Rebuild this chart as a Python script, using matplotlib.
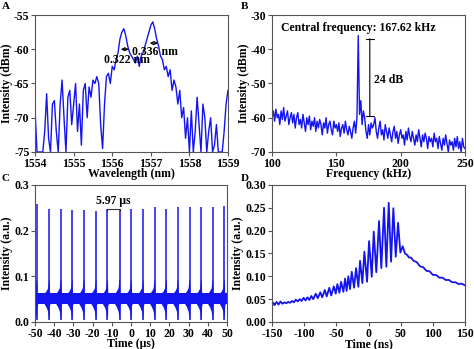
import numpy as np
import matplotlib
matplotlib.use('Agg')
import matplotlib.pyplot as plt

plt.rcParams['font.family'] = 'Liberation Serif'
plt.rcParams['font.weight'] = 'bold'
plt.rcParams['font.size'] = 8.5
plt.rcParams['axes.labelweight'] = 'bold'
plt.rcParams['axes.unicode_minus'] = False
plt.rcParams['axes.edgecolor'] = '#555555'
plt.rcParams['xtick.major.size'] = 3
plt.rcParams['ytick.major.size'] = 3

LINE = '#1414f0'

# A: optical spectrum, 0.05 nm grid from 1554 to 1559 nm
spec_a = [-69, -75, -75, -75, -75, -72, -66.5, -73, -75, -68,
          -67.5, -72, -75, -68, -64.5, -70, -75, -67, -66, -71,
          -68, -65, -72, -68, -74, -66, -65, -70, -65.5, -67,
          -64.5, -65, -64, -65, -71, -74.5, -68, -64, -63.5, -65,
          -62.5, -63, -61.5, -60.5, -58.5, -57.5, -57, -58, -59.5, -60.5,
          -61, -61.5, -62, -61, -62.5, -61, -60.5, -59.5, -58.5, -57.5,
          -56.5, -56, -57, -58.5, -59.5, -61, -61.5, -63, -62.5, -64,
          -63, -66, -64.5, -65.5, -68, -66, -70, -68.5, -73, -70,
          -75, -69, -75, -72, -67, -71, -75, -68, -70, -75,
          -72, -70, -75, -74, -71, -75, -75, -75, -72, -68, -66]
wl = np.arange(len(spec_a)) * 0.05 + 1554

# B: RF spectrum, 1 kHz grid from 100 to 250 kHz
rf_b = [-60, -58, -61, -57.5, -60, -59, -62, -58, -60.5, -57,
        -61, -59.5, -58, -62, -60, -58.5, -61.5, -59, -63, -60,
        -58.5, -62, -60.5, -63, -59, -61.5, -64, -60, -62, -59.5,
        -63.5, -61, -62.5, -60, -64, -61, -63, -60.5, -62, -65,
        -61.5, -63, -60, -64.5, -62, -61, -63.5, -65, -61, -63,
        -62, -64, -61.5, -65.5, -63, -62, -64.5, -61, -63.5, -65,
        -62.5, -64, -66, -63, -61, -64.5, -60, -36, -59, -55,
        -62, -58, -60, -64, -66, -62, -65, -61.5, -63, -62,
        -60, -64, -66, -63, -61, -65, -63.5, -66.5, -62, -64,
        -66, -63, -65, -67, -64, -62.5, -66, -64, -67.5, -65,
        -63.5, -66, -65, -68, -64, -66.5, -63, -65.5, -67, -64,
        -66, -68, -65, -67, -63.5, -66, -68.5, -65, -67, -64.5,
        -66, -69, -65.5, -67, -66, -68.5, -64.5, -67, -66, -69,
        -65.5, -67.5, -69.5, -66, -68, -65, -67.5, -70, -66.5, -68,
        -67, -69.5, -66, -68.5, -65.5, -69, -67, -70, -66, -68.5, -69]
freq = np.arange(len(rf_b)) + 100

# C: pulse train, peak times (us) and heights (a.u.)
pulse_t = [-49.1, -42.7, -36.6, -30.7, -24.6, -18.3, -12.3, -6.0, 0.1,
           6.2, 12.3, 18.3, 24.4, 30.5, 36.6, 42.5, 48.6]
pulse_h = [0.258, 0.248, 0.248, 0.245, 0.245, 0.242, 0.248, 0.248, 0.248,
           0.248, 0.251, 0.248, 0.251, 0.251, 0.251, 0.251, 0.254]
band_lo, band_hi = 0.040, 0.063
env_dt = [-2.6, -1.6, -0.8, -0.3, 0.0, 0.15, 0.5]
env_hi = [0.063, 0.068, 0.075, 0.093, 0.093, 0.066, 0.063]
env_lo = [0.040, 0.033, 0.024, 0.012, 0.004, 0.036, 0.040]

# D: single pulse, alternating peaks / troughs (ns, a.u.)
t_d = [-150, -148, -146, -143, -140, -137, -134, -131, -128, -125,
       -122, -119, -116, -113, -110, -107, -104, -101, -98, -95,
       -92, -89, -86, -82, -79, -75, -72, -68, -65, -61,
       -58, -54, -51, -48.5, -45.3, -42.7, -39.1, -36.5, -34.1, -31.4,
       -28.8, -26.1, -22.5, -19.4, -15.8, -13.2, -9.6, -6.5, -2.3, 0.8,
       5.0, 8.1, 12.1, 16.3, 19.9, 24.1, 27.7, 31.4, 35.0, 38.6,
       42.3, 45.9, 49.5, 53.1, 56.7, 60, 63, 66, 70, 75,
       80, 85, 90, 95, 100, 105, 110, 115, 120, 125,
       130, 135, 140, 145, 150]
v_d = [0.035, 0.042, 0.037, 0.044, 0.038, 0.045, 0.040, 0.043, 0.041, 0.044,
       0.042, 0.046, 0.043, 0.049, 0.045, 0.050, 0.046, 0.053, 0.047, 0.054,
       0.048, 0.057, 0.050, 0.062, 0.052, 0.065, 0.054, 0.070, 0.056, 0.075,
       0.058, 0.078, 0.062, 0.083, 0.064, 0.088, 0.066, 0.095, 0.068, 0.100,
       0.072, 0.110, 0.075, 0.118, 0.077, 0.134, 0.085, 0.154, 0.088, 0.177,
       0.099, 0.198, 0.109, 0.221, 0.118, 0.250, 0.121, 0.261, 0.132, 0.249,
       0.143, 0.217, 0.152, 0.166, 0.150, 0.147, 0.141, 0.141, 0.134, 0.131,
       0.122, 0.120, 0.112, 0.111, 0.103, 0.103, 0.097, 0.097, 0.092, 0.092,
       0.087, 0.087, 0.083, 0.084, 0.080]

fig = plt.figure(figsize=(4.74, 3.49), dpi=100)
axA = fig.add_axes([0.074, 0.5645, 0.407, 0.3925])
axB = fig.add_axes([0.574, 0.5645, 0.407, 0.3925])
axC = fig.add_axes([0.074, 0.0774, 0.405, 0.3926])
axD = fig.add_axes([0.574, 0.0774, 0.407, 0.3926])

# A
axA.plot(wl, spec_a, color=LINE, lw=1)
axA.set_xlim(1554, 1559)
axA.set_ylim(-75, -55)
axA.set_xticks(range(1554, 1560))
axA.set_yticks(range(-75, -54, 5))
axA.set_xlabel('Wavelength (nm)', labelpad=-1)
axA.set_ylabel('Intensity (dBm)', labelpad=1)
axA.annotate('', xy=(1556.15, -60), xytext=(1556.5, -60),
             arrowprops=dict(arrowstyle='<->', lw=0.8, mutation_scale=5))
axA.annotate('', xy=(1556.9, -59.1), xytext=(1557.26, -59.1),
             arrowprops=dict(arrowstyle='<->', lw=0.8, mutation_scale=5))
axA.text(1555.79, -61.6, '0.322 nm', va='center', ha='left')
axA.text(1556.52, -60.4, '0.336 nm', va='center', ha='left')

# B
axB.plot(freq, rf_b, color=LINE, lw=1)
axB.set_xlim(100, 250)
axB.set_ylim(-70, -30)
axB.set_xticks([100, 150, 200, 250])
axB.set_yticks(range(-70, -29, 10))
axB.set_xlabel('Frequency (kHz)', labelpad=-1)
axB.set_ylabel('Intensity (dBm)', labelpad=1)
axB.annotate('', xy=(176, -36.1), xytext=(176, -60.4),
             arrowprops=dict(arrowstyle='|-|', lw=0.8, mutation_scale=3))
axB.text(167.4, -33.8, 'Central frequency: 167.62 kHz', ha='center', va='center')
axB.text(179, -49, '24 dB', ha='left', va='center')

# C
axC.fill_between([-50, 50], band_lo, band_hi, color=LINE, lw=0)
for t, h in zip(pulse_t, pulse_h):
    xs = np.array(env_dt) + t
    axC.fill_between(xs, env_lo, env_hi, color=LINE, lw=0)
    axC.vlines(t, env_lo[4], h, color=LINE, lw=1.1)
axC.set_xlim(-50, 50)
axC.set_ylim(0, 0.3)
axC.set_xticks(range(-50, 51, 10))
axC.set_yticks([0.0, 0.1, 0.2, 0.3])
axC.set_yticklabels(['0.0', '0.1', '0.2', '0.3'])
axC.set_xlabel('Time (\u03bcs)', labelpad=-1)
axC.set_ylabel('Intensity (a.u.)', labelpad=1)
axC.plot([-12.3, -12.3, -6.0, -6.0], [0.244, 0.247, 0.247, 0.244], color='#333333', lw=0.8)
axC.text(-9.5, 0.264, '5.97 \u03bcs', ha='center', va='center')

# D
axD.plot(t_d, v_d, color=LINE, lw=1.3)
axD.set_xlim(-150, 150)
axD.set_ylim(0, 0.3)
axD.set_xticks(range(-150, 151, 50))
axD.set_yticks(np.arange(0, 0.31, 0.05))
axD.set_yticklabels(['%.2f' % v for v in np.arange(0, 0.31, 0.05)])
axD.set_xlabel('Time (ns)', labelpad=-1)
axD.set_ylabel('Intensity (a.u.)', labelpad=1)

for ax in (axA, axB, axC, axD):
    ax.tick_params(pad=1, width=0.8, color='#555555')

fig.text(0.004, 0.975, 'A', fontsize=8)
fig.text(0.509, 0.975, 'B', fontsize=8)
fig.text(0.004, 0.482, 'C', fontsize=8)
fig.text(0.509, 0.482, 'D', fontsize=8)

fig.savefig('out.png', dpi=100)
